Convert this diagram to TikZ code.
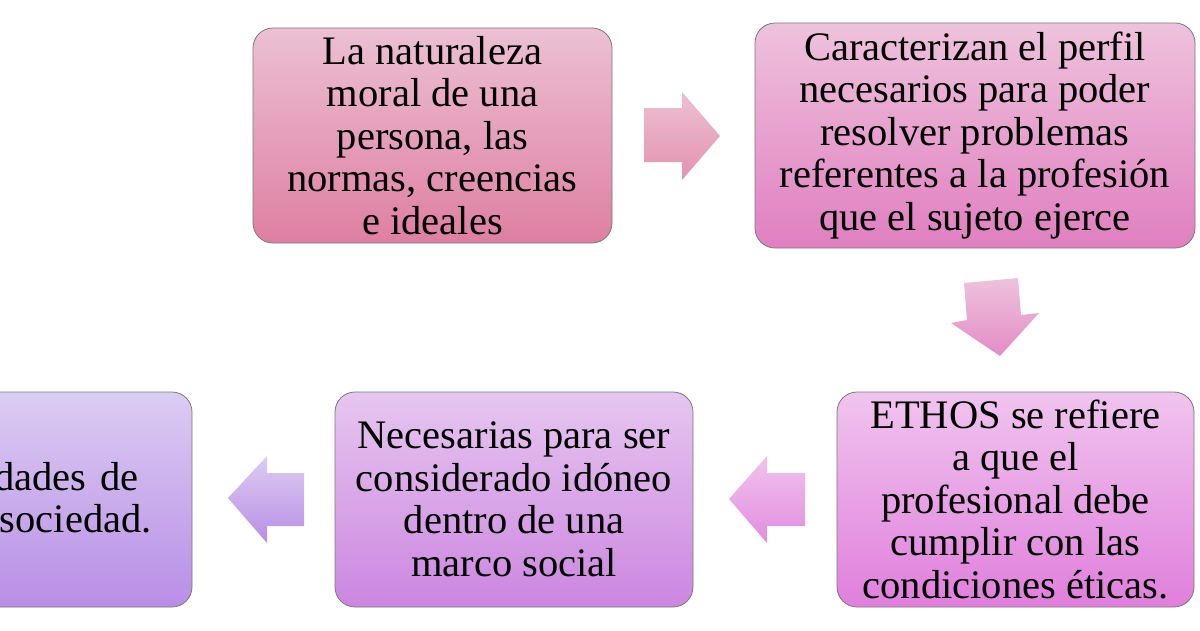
\documentclass[tikz,border=0pt]{standalone}
\usepackage{fontspec}
\setmainfont{Liberation Serif}
\definecolor{aTop}{HTML}{ECC0D2}
\definecolor{aBot}{HTML}{DE7FA2}
\definecolor{bTop}{HTML}{EEC2DC}
\definecolor{bBot}{HTML}{E07FC0}
\definecolor{cTop}{HTML}{F0C4EE}
\definecolor{cBot}{HTML}{E07FDC}
\definecolor{dTop}{HTML}{E6C6F0}
\definecolor{dBot}{HTML}{CC86E0}
\definecolor{eTop}{HTML}{DCCCF2}
\definecolor{eBot}{HTML}{B88EE6}
\definecolor{edgeGray}{HTML}{7A7A7A}
\begin{document}
\begin{tikzpicture}[x=1pt,y=-1pt,
  box/.style={draw=edgeGray, line width=0.8pt, rounded corners=20pt,
    align=center, inner sep=0pt, text=black,
    font=\fontsize{40.5}{42.5}\selectfont},
  blockarrow/.style={draw=none}
]
\useasboundingbox (0,0) rectangle (1200,630);
\clip (0,0) rectangle (1200,630);
\fill[white] (0,0) rectangle (1200,630);

% boxes
\node[box, top color=aTop, bottom color=aBot, minimum width=359pt, minimum height=215pt]
  (A) at (432.5,135.5) {La naturaleza\\moral de una\\persona, las\\normas, creencias\\e ideales};
\node[box, top color=bTop, bottom color=bBot, minimum width=440pt, minimum height=225pt]
  (B) at (975,135.5) {Caracterizan el perfil\\necesarios para poder\\resolver problemas\\referentes a la profesión\\que el sujeto ejerce};
\node[box, top color=cTop, bottom color=cBot, minimum width=357pt, minimum height=215pt]
  (C) at (1015.5,499.5) {ETHOS se refiere\\a que el\\profesional debe\\cumplir con las\\condiciones éticas.};
\node[box, top color=dTop, bottom color=dBot, minimum width=358pt, minimum height=215pt]
  (D) at (514,499.5) {Necesarias para ser\\considerado idóneo\\dentro de una\\marco social};
\node[box, top color=eTop, bottom color=eBot, minimum width=358pt, minimum height=215pt]
  (E) at (13,499.5) {};
\node[anchor=base east, inner sep=0pt, font=\fontsize{40.5}{42.5}\selectfont]
  (E1) at (139,490) {dades\hspace{0.35em}de};
\node[anchor=base east, inner sep=0pt, font=\fontsize{40.5}{42.5}\selectfont]
  (E2) at (152,532) {sociedad.};

% block arrows
\path[blockarrow, top color=aTop, bottom color=aBot!85!white]
  (644,108) -- (682,108) -- (682,92) -- (720,136) -- (682,180) -- (682,162) -- (644,162) -- cycle;
\path[blockarrow, top color=bTop, bottom color=bBot!90!white]
  (964,283) -- (1018,278) -- (1021,315) -- (1039,313) -- (1000,356) -- (951,323) -- (967,320) -- cycle;
\path[blockarrow, top color=cTop, bottom color=cBot!90!white]
  (805,473) -- (767,473) -- (767,456) -- (729,499) -- (767,543) -- (767,526) -- (805,526) -- cycle;
\path[blockarrow, top color=eTop, bottom color=eBot]
  (304,473) -- (267,473) -- (267,456) -- (228,498) -- (267,543) -- (267,526) -- (304,526) -- cycle;
\end{tikzpicture}
\end{document}
